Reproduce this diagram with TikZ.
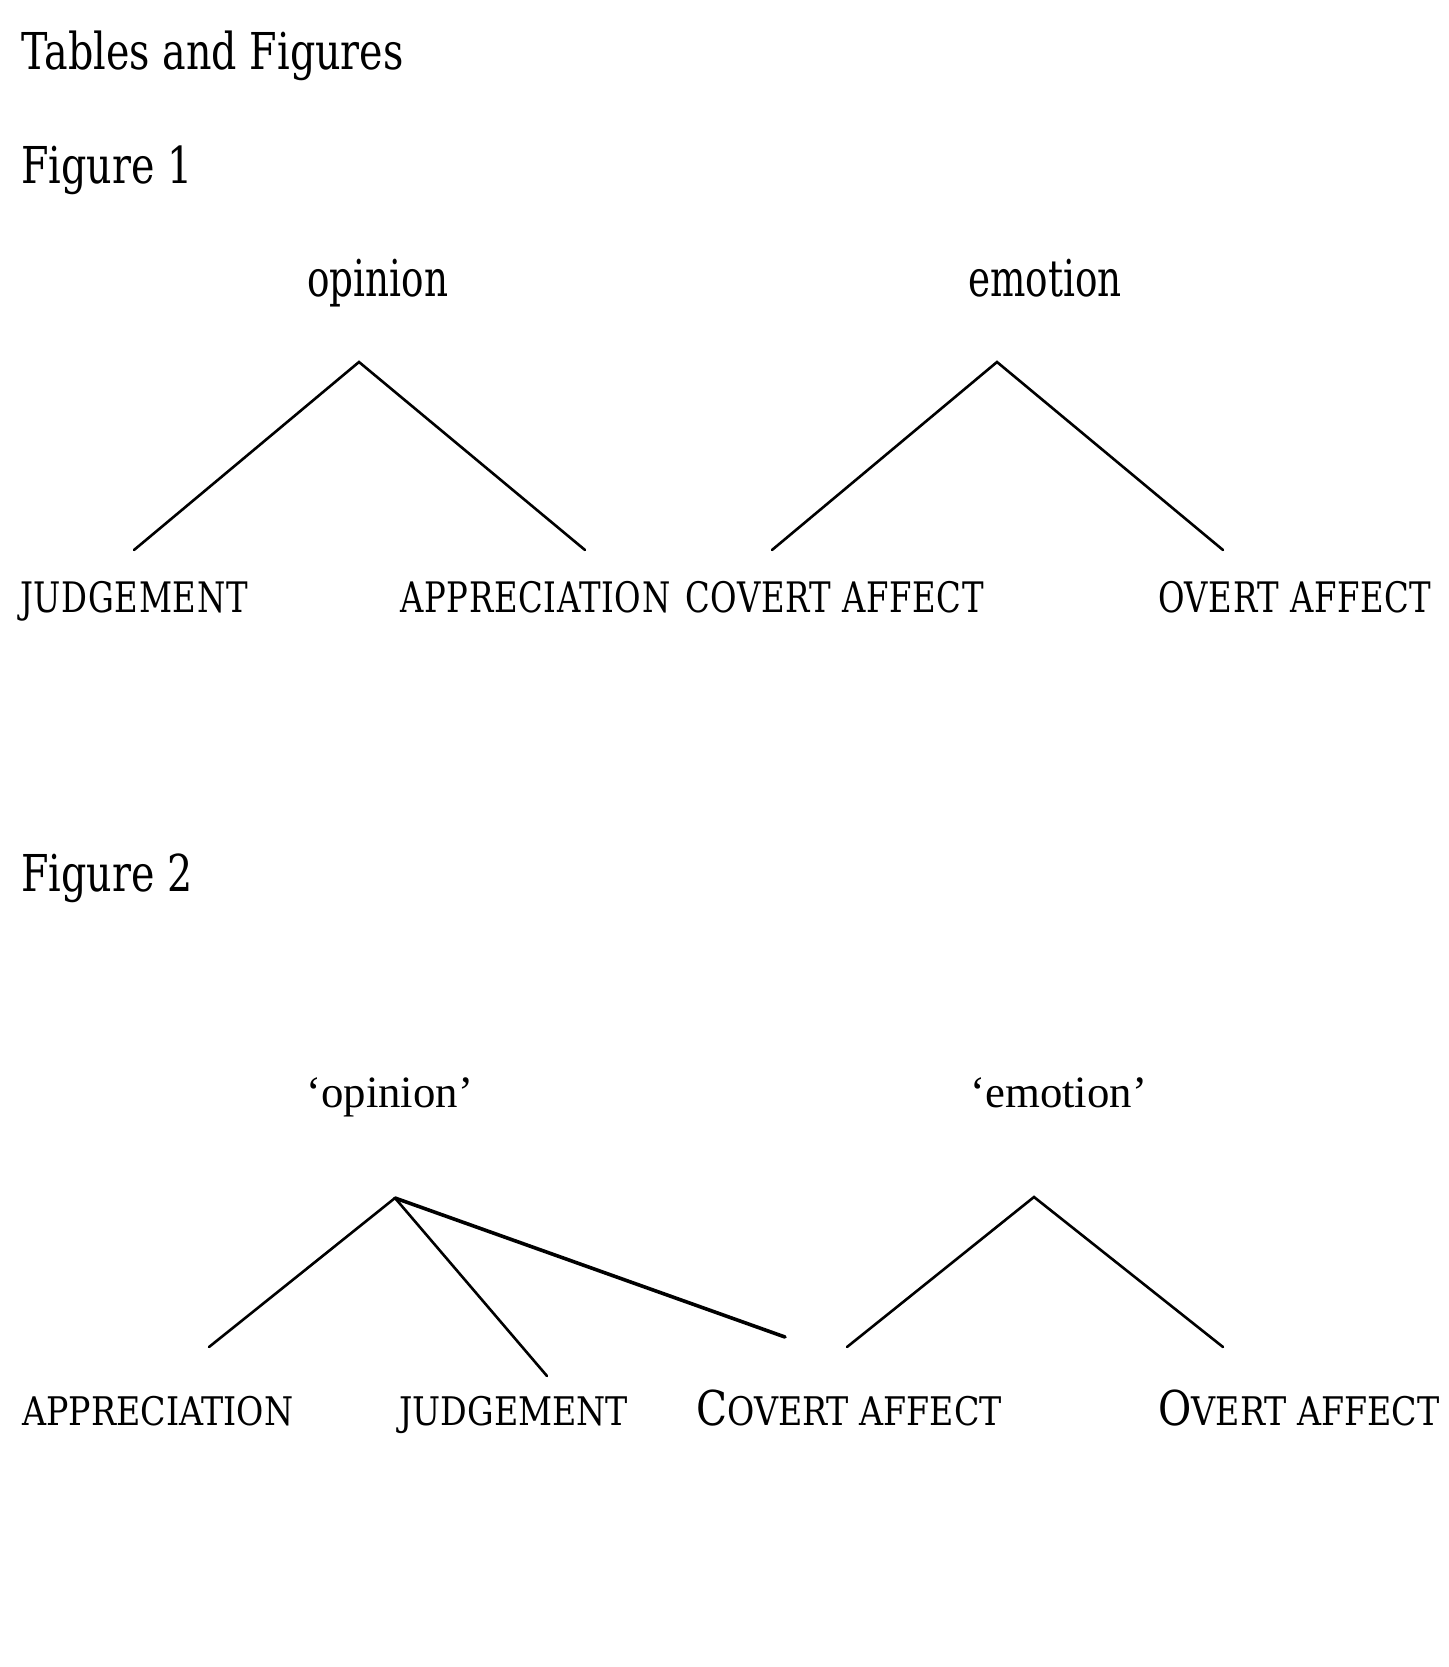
\documentclass[tikz,border=0pt]{standalone}
\usepackage{fontspec}
\newfontfamily\condf{DejaVu Serif}[FakeStretch=0.78]
\newfontfamily\catf{DejaVu Serif}[FakeStretch=0.735]
\newfontfamily\labf{DejaVu Serif}[FakeStretch=0.77,LetterSpace=1.5]
\newfontfamily\scf{DejaVu Serif}[FakeStretch=0.845]
\newfontfamily\timesf{Liberation Serif}
\newcommand\fakesc[2]{{\fontsize{24}{28}\selectfont #1}{\fontsize{19.7}{24}\selectfont #2}}
\begin{document}
\begin{tikzpicture}[x=0.5pt,y=-0.5pt,
  head/.style={anchor=base west, inner sep=0pt, font=\condf\fontsize{25.4}{30}\selectfont},
  cat/.style={anchor=base west, inner sep=0pt, font=\catf\fontsize{25.4}{30}\selectfont},
  lab/.style={anchor=base west, inner sep=0pt, font=\labf\fontsize{21}{25}\selectfont},
  labsc/.style={anchor=base west, inner sep=0pt, font=\scf},
  quot/.style={anchor=base west, inner sep=0pt, font=\timesf\fontsize{22.4}{27}\selectfont},
  branch/.style={line width=1.3pt, line cap=round},
  heavy/.style={line width=1.8pt, line cap=round}]
\useasboundingbox (0,0) rectangle (1449,1667);
% headings
\node[head] (title) at (21,69) {Tables and Figures};
\node[head] (fig1) at (21,183) {Figure 1};
\node[head] (fig2) at (21,891) {Figure 2};
% Figure 1
\node[cat] (op1) at (307,296) {opinion};
\node[cat] (em1) at (968,296) {emotion};
\coordinate (a1) at (359,362);
\coordinate (a1l) at (134,550);
\coordinate (a1r) at (585,550);
\coordinate (b1) at (997,362);
\coordinate (b1l) at (772,550);
\coordinate (b1r) at (1223,550);
\draw[branch] (a1l) -- (a1) -- (a1r);
\draw[branch] (b1l) -- (b1) -- (b1r);
\node[lab] (j1) at (20,612) {JUDGEMENT};
\node[lab] (ap1) at (400,612) {APPRECIATION};
\node[lab] (ca1) at (685,612) {COVERT AFFECT};
\node[lab] (oa1) at (1158,612) {OVERT AFFECT};
% Figure 2
\node[quot] (op2) at (306,1107) {‘opinion’};
\node[quot] (em2) at (970,1107) {‘emotion’};
\coordinate (a2) at (395,1198);
\coordinate (a2l) at (209,1347);
\coordinate (a2m) at (547,1376);
\coordinate (a2r) at (785,1337);
\coordinate (b2) at (1034,1197);
\coordinate (b2l) at (847,1347);
\coordinate (b2r) at (1223,1347);
\draw[branch] (a2l) -- (a2);
\draw[branch] (a2) -- (a2m);
\draw[heavy] (a2) -- (a2r);
\draw[branch] (b2l) -- (b2) -- (b2r);
\node[labsc] (ap2) at (22,1425) {\fakesc{}{APPRECIATION}};
\node[labsc] (j2) at (399,1425) {\fakesc{}{JUDGEMENT}};
\node[labsc] (ca2) at (696,1425) {\fakesc{C}{OVERT AFFECT}};
\node[labsc] (oa2) at (1158,1425) {\fakesc{O}{VERT AFFECT}};
\end{tikzpicture}
\end{document}
